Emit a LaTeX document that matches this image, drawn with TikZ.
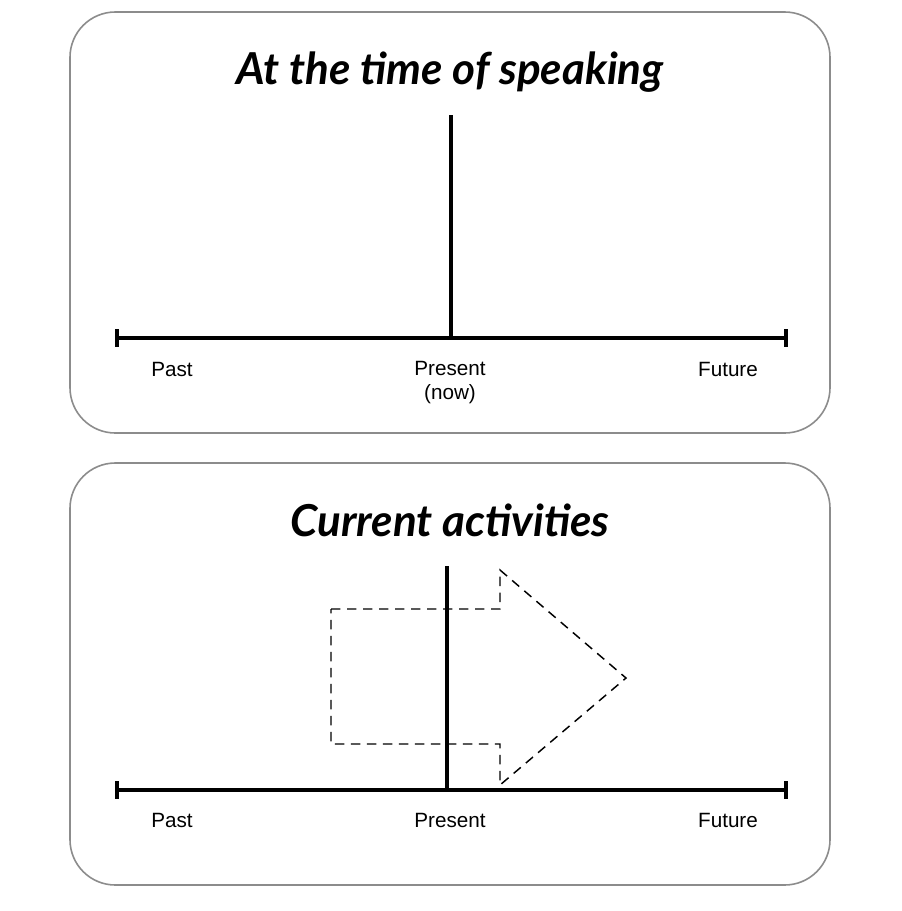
\documentclass[tikz,border=0pt]{standalone}
\usepackage{fontspec}
\setmainfont{Liberation Sans}
\newfontfamily\titlefont{Lato}
\begin{document}
\begin{tikzpicture}[x=0.75pt,y=-0.75pt,
  panel/.style={draw=black!45,line width=1.2pt,rounded corners=34pt},
  axis/.style={line width=2.8pt},
  lbl/.style={font=\fontsize{15.5}{18}\selectfont,align=center},
  ttl/.style={font=\titlefont\bfseries\itshape\fontsize{33}{37}\selectfont}]
\useasboundingbox (0,0) rectangle (901,911);
% top panel
\draw[panel] (70,12) rectangle (830,433);
\node[ttl] (t1) at (450,72) {At the time of speaking};
\coordinate (a1) at (117,338); \coordinate (b1) at (786,338);
\draw[axis] (a1) -- (b1);
\draw[axis] (117,329) -- (117,347);
\draw[axis] (786,329) -- (786,347);
\coordinate (n1) at (451,338); \coordinate (n1t) at (451,115);
\draw[axis] (n1) -- (n1t);
\node[lbl] (p1) at (172,369) {Past};
\node[lbl,anchor=north] (pr1) at (450,357) {Present\\(now)};
\node[lbl] (f1) at (728,369) {Future};
% bottom panel
\draw[panel] (70,463) rectangle (830,885);
\node[ttl] (t2) at (450,520) {Current activities};
\draw[line width=1.1pt,dash pattern=on 7pt off 5pt] (331,609) -- (500,609) -- (500,570) -- (626,678) -- (500,785) -- (500,744) -- (331,744) -- cycle;
\coordinate (a2) at (117,790); \coordinate (b2) at (786,790);
\draw[axis] (a2) -- (b2);
\draw[axis] (117,781) -- (117,799);
\draw[axis] (786,781) -- (786,799);
\coordinate (n2) at (447,790); \coordinate (n2t) at (447,566);
\draw[axis] (n2) -- (n2t);
\node[lbl] (p2) at (172,820) {Past};
\node[lbl] (pr2) at (450,820) {Present};
\node[lbl] (f2) at (728,820) {Future};
\end{tikzpicture}
\end{document}
